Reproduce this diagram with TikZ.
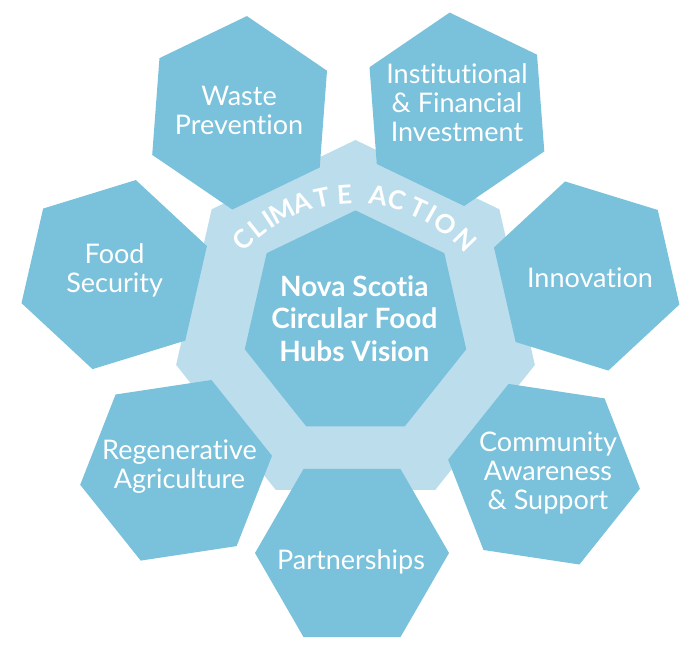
\documentclass[tikz,border=0pt]{standalone}
\usepackage{fontspec}
\setmainfont{Lato}[Ligatures=NoCommon]
\definecolor{hubblue}{HTML}{7AC1DB}
\definecolor{ringblue}{HTML}{BCDEEC}
\tikzset{
  hexfill/.style={fill=hubblue},
  ringfill/.style={fill=ringblue},
  hexlabel/.style={text=white, align=center, inner sep=0pt,
    font=\fontsize{27}{29}\selectfont},
  hublabel/.style={text=white, align=center, inner sep=0pt,
    font=\bfseries\fontsize{28}{32.5}\selectfont},
  arcletter/.style={text=white, inner sep=0pt, anchor=base,
    font=\bfseries\fontsize{26}{26}\selectfont},
}

\begin{document}
\begin{tikzpicture}[x=1pt,y=1pt]
\useasboundingbox (0,0) rectangle (700,656);
% ring and centre
\begin{scope}[shift={(355.5,332)}]
  \fill[ringfill] (90:184) \foreach \k in {1,...,6}{-- (90+360/7*\k:184)} -- cycle;
  \fill[hexfill] (90:113.6) \foreach \k in {1,...,6}{-- (90+360/7*\k:113.6)} -- cycle;
\end{scope}
% the seven hexagons, one flat side towards the ring
\foreach \x/\y/\a in {239.6/543.2/115.7, 456.9/546.7/64.3, 586.7/380/12.9,
    544/181.8/-38.6, 352/103/-90, 176.1/185.7/-141.4, 114.2/381.4/167.1}{
  \begin{scope}[shift={(\x,\y)}]
    \fill[hexfill] (\a+30:97) \foreach \j in {1,...,5}{-- (\a+30+60*\j:97)} -- cycle;
  \end{scope}
}
% curved title, letter by letter
\begin{scope}[shift={(354,306)}]
  \foreach \ch/\ang [count=\n] in {C/135.2, L/128.6, I/123.4, M/117.3, A/109.4,
      T/101.9, E/93.5, A/81.1, C/74.1, T/65.6, I/60.4, O/54, N/44.7}
    \node[arcletter, rotate=\ang-90] (title\n) at (\ang:146.5) {\ch};
\end{scope}
% labels
\node[hublabel] (vision) at (354.3,337.3) {Nova Scotia\\Circular Food\\Hubs Vision};
\node[hexlabel] (waste) at (239,545.5) {Waste\\Prevention};
\node[hexlabel] (invest) at (457,553.5) {Institutional\\\& Financial\\Investment};
\node[hexlabel] (innov) at (590,378.5) {Innovation};
\node[hexlabel] (community) at (548,183) {Community\\Awareness\\\& Support};
\node[hexlabel] (partner) at (351,94) {Partnerships};
\node[hexlabel] (regen) at (179.5,189) {Regenerative\\Agriculture};
\node[hexlabel] (food) at (114.6,385.5) {Food\\Security};
\end{tikzpicture}
\end{document}
